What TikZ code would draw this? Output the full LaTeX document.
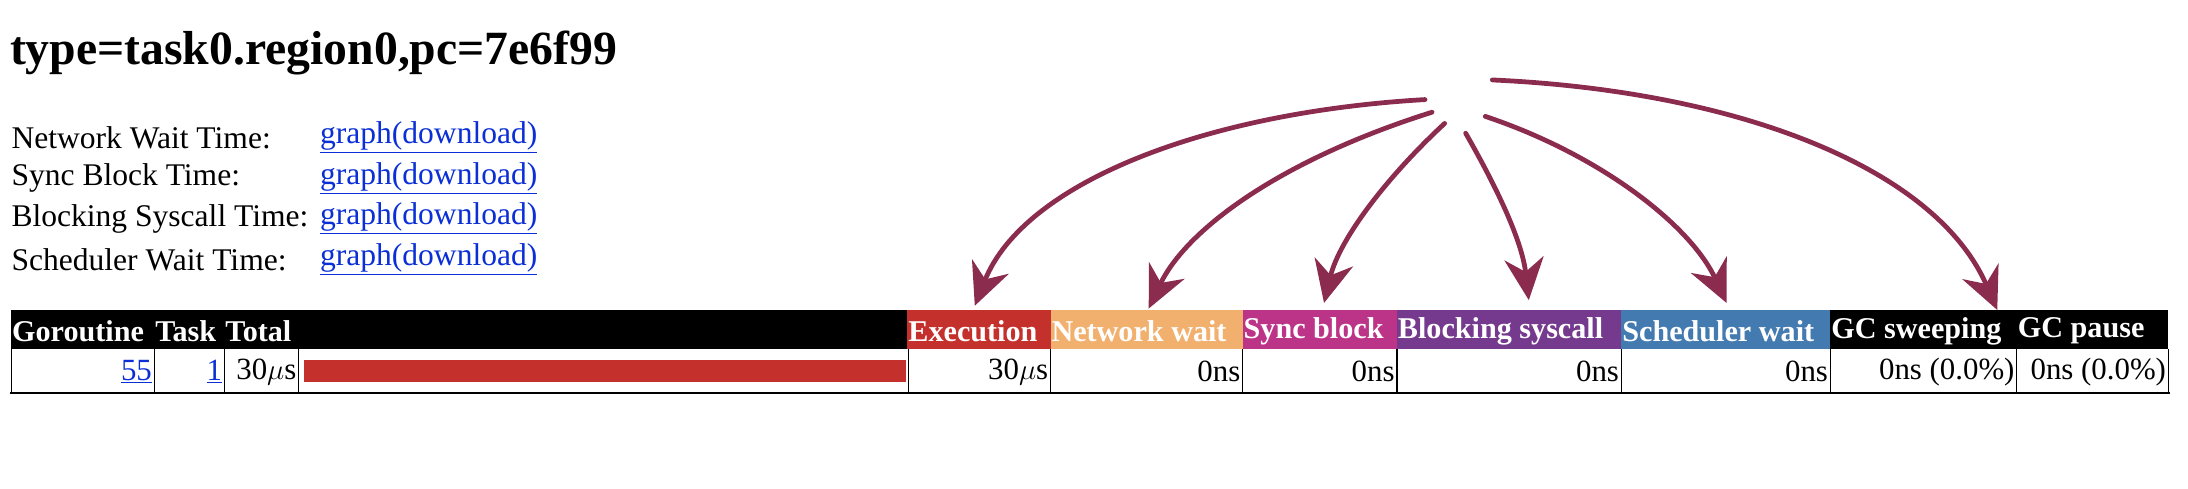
\documentclass[tikz,border=0pt]{standalone}
\usepackage{fontspec}
\setmainfont{Liberation Serif}
\usetikzlibrary{arrows.meta}
\definecolor{cexec}{HTML}{C4302B}
\definecolor{cnet}{HTML}{F2B06E}
\definecolor{csync}{HTML}{BC3487}
\definecolor{cblock}{HTML}{753A8E}
\definecolor{csched}{HTML}{437BB1}
\definecolor{arr}{HTML}{8B2C4F}
\definecolor{lnk}{HTML}{0A2FD6}
\begin{document}
\begin{tikzpicture}[x=1pt,y=-1pt,
  hd/.style={anchor=west,inner sep=1pt,text=white,font=\fontsize{21.5}{22}\selectfont\bfseries},
  dc/.style={anchor=east,inner sep=1.5pt,font=\fontsize{22}{22}\selectfont},
  lbl/.style={anchor=west,inner sep=0pt,font=\fontsize{22.5}{24}\selectfont},
  lk/.style={anchor=west,inner sep=0pt,text=lnk,font=\fontsize{22.5}{24}\selectfont},
  ar/.style={draw=arr,line width=3.4pt,line cap=round,-{Stealth[length=30pt,width=28pt]}}]
\useasboundingbox (0,0) rectangle (1560,348);
\node[anchor=west,inner sep=0pt,font=\fontsize{34}{36}\selectfont\bfseries] (title) at (7,38) {type=task0.region0,pc=7e6f99};
\foreach \t/\y [count=\i] in {Network Wait Time:/98,Sync Block Time:/127,Blocking Syscall Time:/156,Scheduler Wait Time:/185}{
  \node[lbl] (l\i) at (8,\y) {\t};
  \node[lk] (g\i) at (228,\y) {\underline{graph(download)}};
}
% header
\fill[black] (8,221) rectangle (1546,249);
\fill[cexec] (647,221) rectangle (749,249);
\fill[cnet] (749,221) rectangle (886,249);
\fill[csync] (886,221) rectangle (996,249);
\fill[cblock] (996,221) rectangle (1156,249);
\fill[csched] (1156,221) rectangle (1305,249);
\foreach \x/\t [count=\i] in {8/Goroutine,110/Task,160/Total,647/Execution,749/Network wait,886/Sync block,996/Blocking syscall,1156/Scheduler wait,1305/GC sweeping,1438/GC pause}
  \node[hd] (h\i) at (\x-0.5,236) {\t};
% row
\draw[line width=0.8pt] (8,249) -- (8,280);
\foreach \x in {110,160,213,648,749,886,996,1156,1305,1438,1546}
  \draw[line width=0.8pt] (\x,249) -- (\x,280);
\draw[line width=1.6pt] (7.2,280) -- (1546.8,280);
\fill[cexec] (217,257) rectangle (646,272);
\node[dc,text=lnk] (d1) at (110,265) {\underline{55}};
\node[dc,text=lnk] (d2) at (160,265) {\underline{1}};
\node[dc] (d3) at (213,265) {30$\mu$s};
\node[dc] (d4) at (749,265) {30$\mu$s};
\node[dc] (d5) at (886,265) {0ns};
\node[dc] (d6) at (996,265) {0ns};
\node[dc] (d7) at (1156,265) {0ns};
\node[dc] (d8) at (1305,265) {0ns};
\node[dc] (d9) at (1438,265) {0ns (0.0\%)};
\node[dc] (d10) at (1546,265) {0ns (0.0\%)};
% arrows
\coordinate (s1) at (1016,71); \coordinate (e1) at (695,218);
\coordinate (s2) at (1021,80); \coordinate (e2) at (819,220);
\coordinate (s3) at (1030,88); \coordinate (e3) at (944,216);
\coordinate (s4) at (1045,95); \coordinate (e4) at (1090,214);
\coordinate (s5) at (1059,83); \coordinate (e5) at (1231,216);
\coordinate (s6) at (1064,57); \coordinate (e6) at (1424,221);
\draw[ar] (s1) .. controls (860,80) and (730,130) .. (e1);
\draw[ar] (s2) .. controls (910,115) and (845,165) .. (e2);
\draw[ar] (s3) .. controls (990,125) and (955,170) .. (e3);
\draw[ar] (s4) .. controls (1065,130) and (1085,170) .. (e4);
\draw[ar] (s5) .. controls (1140,110) and (1205,160) .. (e5);
\draw[ar] (s6) .. controls (1240,65) and (1380,120) .. (e6);
\end{tikzpicture}
\end{document}
